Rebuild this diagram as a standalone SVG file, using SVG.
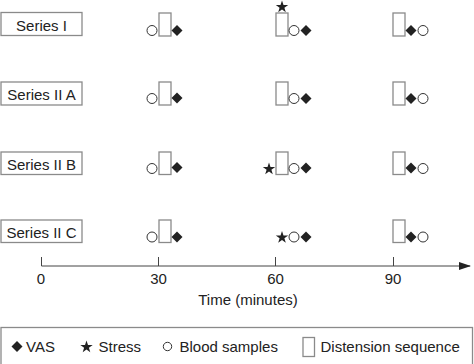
<svg xmlns="http://www.w3.org/2000/svg" width="474" height="364" viewBox="0 0 474 364">
<style>
text{font-family:"Liberation Sans",Arial,sans-serif;font-size:15px;fill:#222}
.box{fill:#fff;stroke:#8a8a8a;stroke-width:1.3}
.seq{fill:#fff;stroke:#8a8a8a;stroke-width:1.3}
.bs{fill:#fff;stroke:#333;stroke-width:1}
.vas{fill:#222}
.st{fill:#222}
.ax{stroke:#444;stroke-width:1;fill:none}
</style>
<defs>
<path id="dia" d="M0,-5.5 L5.5,0 L0,5.5 L-5.5,0 Z" class="vas"/>
<polygon id="star" points="0,-6.5 1.5,-2 6.2,-2 2.4,0.8 3.8,5.3 0,2.5 -3.8,5.3 -2.4,0.8 -6.2,-2 -1.5,-2" class="st"/>
<marker id="arr" markerWidth="12" markerHeight="8" refX="11" refY="4" orient="auto" markerUnits="userSpaceOnUse"><path d="M0,0 L12,4 L0,8 Z" fill="#222"/></marker>
</defs>
<g id="axis">
<line x1="41.5" y1="266" x2="470" y2="266" class="ax" marker-end="url(#arr)"/>
<line x1="41.5" y1="257" x2="41.5" y2="266" class="ax"/>
<line x1="158.5" y1="257" x2="158.5" y2="266" class="ax"/>
<line x1="275.5" y1="257" x2="275.5" y2="266" class="ax"/>
<line x1="393.5" y1="257" x2="393.5" y2="266" class="ax"/>
<text x="41" y="283.5" text-anchor="middle">0</text>
<text x="158.5" y="283.5" text-anchor="middle">30</text>
<text x="275.5" y="283.5" text-anchor="middle">60</text>
<text x="393" y="283.5" text-anchor="middle">90</text>
<text x="248" y="305" text-anchor="middle">Time (minutes)</text>
</g>
<g id="series-i">
<rect x="1" y="12.5" width="81" height="23" class="box"/>
<text x="41.5" y="30.5" text-anchor="middle">Series I</text>
<circle cx="152" cy="30.5" r="5" class="bs"/>
<rect x="159" y="13" width="12" height="23" class="seq"/>
<use href="#dia" x="177" y="30.5"/>
<use href="#star" x="282" y="7"/>
<rect x="276" y="13" width="12" height="23" class="seq"/>
<circle cx="294" cy="30.5" r="5" class="bs"/>
<use href="#dia" x="306" y="30.5"/>
<rect x="393" y="13" width="12" height="23" class="seq"/>
<use href="#dia" x="411" y="30.5"/>
<circle cx="423" cy="30.5" r="5" class="bs"/>
</g>
<g id="series-iia">
<rect x="1" y="82" width="81" height="23" class="box"/>
<text x="41.5" y="100" text-anchor="middle">Series II A</text>
<circle cx="152" cy="98.5" r="5" class="bs"/>
<rect x="159" y="82" width="12" height="23" class="seq"/>
<use href="#dia" x="177" y="98"/>
<rect x="276" y="82" width="12" height="23" class="seq"/>
<circle cx="294" cy="98.5" r="5" class="bs"/>
<use href="#dia" x="306" y="98.5"/>
<rect x="393" y="82" width="12" height="23" class="seq"/>
<use href="#dia" x="411" y="98.5"/>
<circle cx="423" cy="98.5" r="5" class="bs"/>
</g>
<g id="series-iib">
<rect x="1" y="152" width="81" height="22.5" class="box"/>
<text x="41.5" y="169.5" text-anchor="middle">Series II B</text>
<circle cx="152" cy="168.5" r="5" class="bs"/>
<rect x="159" y="152" width="12" height="22.5" class="seq"/>
<use href="#dia" x="177" y="167.5"/>
<use href="#star" x="269" y="169"/>
<rect x="276" y="152" width="12" height="22.5" class="seq"/>
<circle cx="294" cy="168.5" r="5" class="bs"/>
<use href="#dia" x="306" y="168"/>
<rect x="393" y="152" width="12" height="22.5" class="seq"/>
<use href="#dia" x="411" y="168"/>
<circle cx="423" cy="168.5" r="5" class="bs"/>
</g>
<g id="series-iic">
<rect x="1" y="220" width="81" height="22.5" class="box"/>
<text x="41.5" y="238" text-anchor="middle">Series II C</text>
<circle cx="152" cy="237" r="5" class="bs"/>
<rect x="159" y="220" width="12" height="22.5" class="seq"/>
<use href="#dia" x="177" y="237"/>
<use href="#star" x="282" y="237.5"/>
<circle cx="294" cy="237" r="5" class="bs"/>
<use href="#dia" x="306" y="237"/>
<rect x="393" y="220" width="12" height="22.5" class="seq"/>
<use href="#dia" x="411" y="237"/>
<circle cx="423" cy="237" r="5" class="bs"/>
</g>
<g id="legend">
<rect x="1" y="327.5" width="471.5" height="40" class="box"/>
<path d="M17,341 L22.5,346.5 L17,352 L11.5,346.5 Z" class="vas"/>
<text x="26" y="351.5">VAS</text>
<use href="#star" x="86.5" y="347"/>
<text x="98.5" y="351.5">Stress</text>
<circle cx="167.5" cy="346.5" r="4.2" class="bs"/>
<text x="179.5" y="351.5">Blood samples</text>
<rect x="303" y="337.5" width="11.5" height="19" class="seq"/>
<text x="320.5" y="351.5">Distension sequence</text>
</g>
</svg>
